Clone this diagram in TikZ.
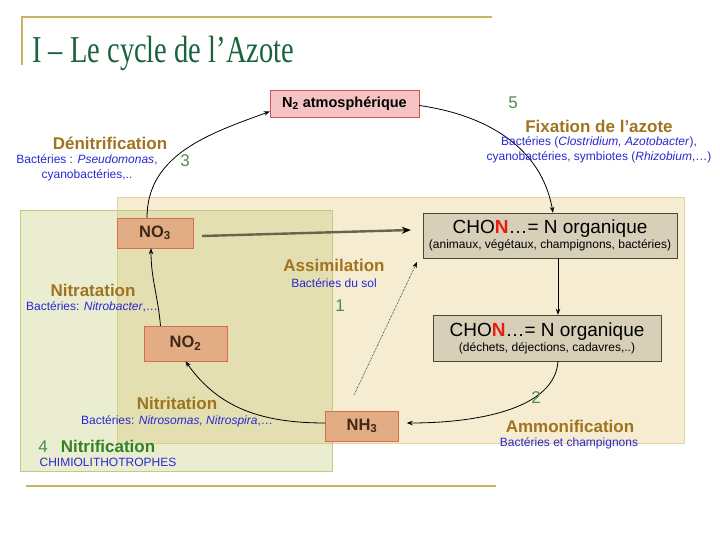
\documentclass[tikz,border=0pt]{standalone}
\usepackage{fontspec}
\setmainfont{Liberation Sans}
\newfontfamily\titlefont[FakeStretch=0.75]{Liberation Serif}
\usetikzlibrary{arrows.meta}

\definecolor{titlegreen}{RGB}{25,100,60}
\definecolor{rulegold}{RGB}{200,180,100}
\definecolor{soilfill}{RGB}{246,236,210}
\definecolor{soilline}{RGB}{232,212,150}
\definecolor{nitrfill}{RGB}{185,195,100}
\definecolor{nitrline}{RGB}{195,200,130}
\definecolor{molfill}{RGB}{226,172,132}
\definecolor{molline}{RGB}{215,110,80}
\definecolor{moltext}{RGB}{60,40,20}
\definecolor{airfill}{RGB}{245,195,195}
\definecolor{airline}{RGB}{210,85,85}
\definecolor{orgfill}{RGB}{215,207,183}
\definecolor{orgline}{RGB}{80,70,55}
\definecolor{dblgrey}{RGB}{105,100,75}
\definecolor{proccol}{RGB}{160,115,30}
\definecolor{bactblue}{RGB}{40,40,210}
\definecolor{numgreen}{RGB}{80,140,80}
\definecolor{nitrgreen}{RGB}{50,130,40}
\definecolor{chonred}{RGB}{230,30,20}

\begin{document}
\begin{tikzpicture}[x=1pt, y=-1pt, >={Stealth[length=6pt,width=4.5pt]},
    mol/.style = {draw=molline, fill=molfill, text=moltext, inner sep=0pt, font=\bfseries\fontsize{16.5}{18}\selectfont},
    orga/.style = {draw=orgline, fill=orgfill, inner sep=0pt, align=center},
    proc/.style = {text=proccol, font=\bfseries\fontsize{17}{19}\selectfont},
    bact/.style = {text=bactblue, align=center, font=\fontsize{12}{15}\selectfont},
    num/.style = {text=numgreen, font=\fontsize{17}{19}\selectfont},
    arr/.style = {->, line width=0.8pt}]
    \useasboundingbox (0,0) rectangle (720,540);

    % title and rules
    \draw[rulegold, line width=1.5pt] (22,65) -- (22,17) -- (492,17);
    \draw[rulegold, line width=1.5pt] (26,486) -- (496,486);
    \node[anchor=base west, inner sep=0pt, text=titlegreen, font=\titlefont\fontsize{38}{42}\selectfont] (title) at (32,63) {I – Le cycle de l’Azote};

    % soil and nitrification areas
    \draw[soilline, fill=soilfill] (117,197) rectangle (684,443);
    \draw[nitrline, fill=nitrfill, fill opacity=0.3] (20,210) rectangle (332,471);

    \node[draw=airline, fill=airfill, inner sep=0pt, minimum width=149pt, minimum height=27pt, font=\bfseries\fontsize{14.5}{16}\selectfont] (n2) at (344.5,103.5) {N\textsubscript{2} atmosphérique};
    \node[mol, minimum width=76pt, minimum height=30pt] (no3) at (155,233) {NO\textsubscript{3}};
    \node[mol, minimum width=83pt, minimum height=35pt] (no2) at (185.5,343.5) {NO\textsubscript{2}};
    \node[mol, minimum width=73pt, minimum height=30pt] (nh3) at (362,426) {NH\textsubscript{3}};
    \node[orga, minimum width=254pt, minimum height=45pt] (chon1) at (550,235.5) {{\fontsize{19}{21}\selectfont CHO\textcolor{chonred}{\bfseries N}…= N organique}\\[1pt]{\fontsize{12}{13}\selectfont (animaux, végétaux, champignons, bactéries)}};
    \node[orga, minimum width=228pt, minimum height=46pt] (chon2) at (547,338) {{\fontsize{19}{21}\selectfont CHO\textcolor{chonred}{\bfseries N}…= N organique}\\[1pt]{\fontsize{12}{13}\selectfont (déchets, déjections, cadavres,..)}};

    \coordinate (dotstart) at (354,395);
    \coordinate (dotend) at (417,262);

    \draw[arr] ([xshift=-8pt]no3.north) to[out=90, in=200] ([yshift=-8pt]n2.west);
    \draw[arr] ([yshift=-2pt]n2.east) to[out=-8, in=100] ([xshift=3pt]chon1.north);
    \draw[dblgrey, line width=2.4pt, -{Stealth[length=9pt,width=7pt,color=black]}] ([xshift=9pt,yshift=-3pt]no3.east) -- ([xshift=-12pt,yshift=5.5pt]chon1.west);
    \draw[arr] ([xshift=8pt]chon1.south) -- ([xshift=8pt]chon1.south |- chon2.north);
    \draw[arr] ([xshift=11pt]chon2.south) .. controls +(-3,48) and +(70,0) .. ([xshift=8pt,yshift=3pt]nh3.east);
    \draw[arr] ([yshift=3pt]nh3.west) to[out=180, in=-55] (no2.south);
    \draw[arr] ([xshift=-25pt]no2.north) to[out=95, in=-90] ([xshift=-4pt]no3.south);
    \draw[->, densely dotted, line width=0.6pt] (dotstart) -- (dotend);

    % labels
    \node[proc] (denit) at (110,143) {Dénitrification};
    \node[bact] (denitb) at (87,167.5) {Bactéries : \textit{Pseudomonas},\\cyanobactéries,..};
    \node[num] (three) at (185,161) {3};
    \node[num] (five) at (513,103) {5};
    \node[proc] (fix) at (599,126) {Fixation de l'azote};
    \node[bact] (fixb) at (599,150) {Bactéries (\textit{Clostridium, Azotobacter}),\\cyanobactéries, symbiotes (\textit{Rhizobium},…)};
    \node[proc] (assim) at (334,265) {Assimilation};
    \node[bact] (assimb) at (334,283) {Bactéries du sol};
    \node[num] (one) at (340,306) {1};
    \node[proc] (nitra) at (93,290) {Nitratation};
    \node[bact] (nitrab) at (92,307) {Bactéries: \textit{Nitrobacter},…};
    \node[proc] (nitri) at (177,403) {Nitritation};
    \node[bact] (nitrib) at (177,421) {Bactéries: \textit{Nitrosomas, Nitrospira},…};
    \node[num] (four) at (43,447) {4};
    \node[text=nitrgreen, font=\bfseries\fontsize{17}{19}\selectfont] (nitrif) at (108,446) {Nitrification};
    \node[bact] (chimio) at (108,462) {CHIMIOLITHOTROPHES};
    \node[num] (two) at (536,398) {2};
    \node[proc] (ammo) at (570,426) {Ammonification};
    \node[bact] (ammob) at (569,443) {Bactéries et champignons};
\end{tikzpicture}
\end{document}
